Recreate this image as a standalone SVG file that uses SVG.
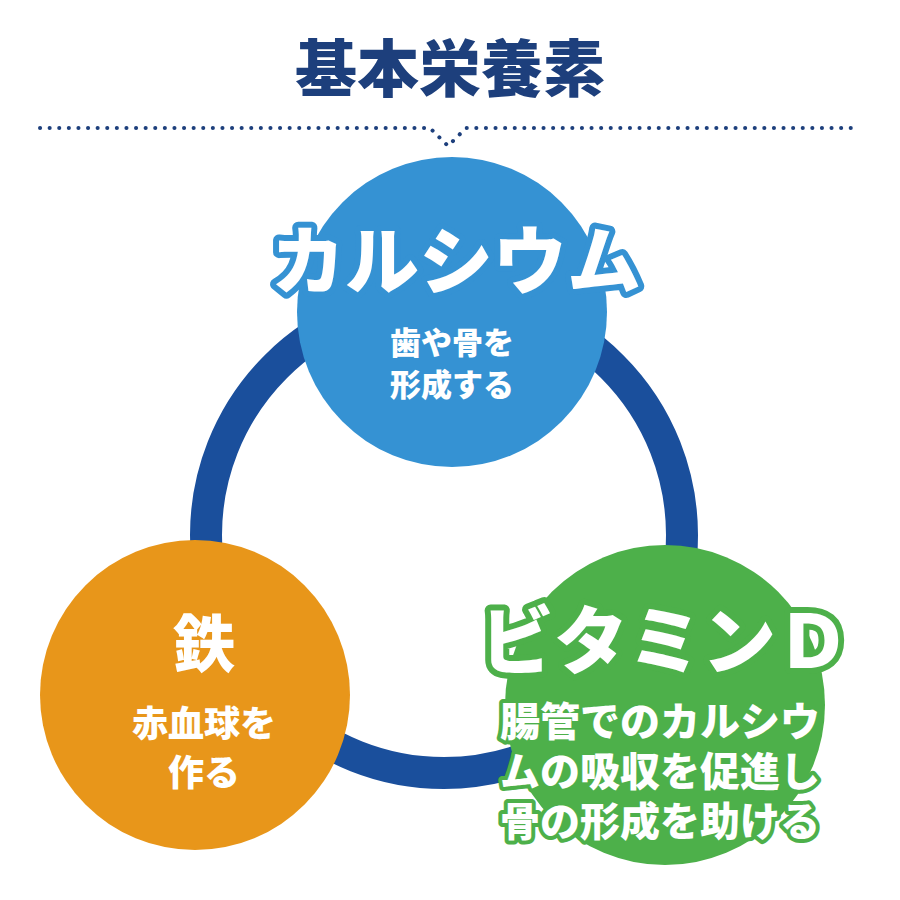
<svg xmlns="http://www.w3.org/2000/svg" width="900" height="900" viewBox="0 0 900 900">
<style>
text{font-family:"Noto Sans CJK JP","Noto Sans",sans-serif;font-weight:900;text-anchor:middle}
.w{fill:#fff}
.big{font-size:74px;paint-order:stroke;stroke-width:12px;stroke-linejoin:round;fill:#fff}
</style>
<rect width="900" height="900" fill="#fff"/>
<text x="450" y="92" font-size="62" fill="#1d3f7c">基本栄養素</text>
<g id="connectors" fill="none">
<path d="M40 128 H430 L448 146 L466 128 H860" stroke="#1d3f7c" stroke-width="4" stroke-dasharray="0.1 9.5" stroke-linecap="round"/>
<circle cx="444" cy="535" r="238" stroke="#1a4f9c" stroke-width="32"/>
</g>
<g id="calcium">
<circle cx="452" cy="312" r="155" fill="#3592d3"/>
<text x="456" y="288" class="big" stroke="#3592d3">カルシウム</text>
<text x="452" y="354" font-size="31" class="w">歯や骨を</text>
<text x="452" y="396" font-size="31" class="w">形成する</text>
</g>
<g id="iron">
<circle cx="195" cy="695" r="155" fill="#e8961a"/>
<text x="204" y="667" font-size="62" class="w">鉄</text>
<text x="204" y="737" font-size="36" class="w">赤血球を</text>
<text x="204" y="786" font-size="36" class="w">作る</text>
</g>
<g id="vitd">
<circle cx="665" cy="705" r="160" fill="#4db04a"/>
<text x="665" y="668" class="big" stroke="#4db04a">ビタミンＤ</text>
<g style="font-size:40px;paint-order:stroke;stroke:#4db04a;stroke-width:8px;stroke-linejoin:round;fill:#fff">
<text x="500" y="736" style="text-anchor:start">腸管でのカルシウ</text>
<text x="500" y="786" style="text-anchor:start">ムの吸収を促進し</text>
<text x="500" y="836" style="text-anchor:start">骨の形成を助ける</text>
</g>
</g>
</svg>
